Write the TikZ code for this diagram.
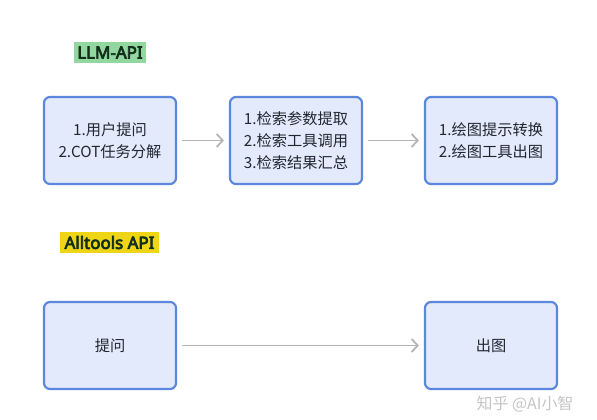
\documentclass[tikz,border=0pt]{standalone}
\usepackage{fontspec}
\setmainfont{Noto Sans CJK SC}
\newfontfamily\titlefont[FakeBold=4.2]{Noto Sans}
\usepackage{xcolor}
\usetikzlibrary{arrows.meta}
\definecolor{boxfill}{HTML}{E2EAFC}
\definecolor{boxline}{HTML}{5D87DC}
\definecolor{arrowgray}{HTML}{B4B4B4}
\definecolor{textdark}{HTML}{22262F}
\definecolor{tagGreen}{HTML}{92D6A0}
\definecolor{tagYellow}{HTML}{F0D416}
\definecolor{tagText}{HTML}{12301A}

\begin{document}
\begin{tikzpicture}[x=1bp, y=-1bp, line join=round]
\tikzset{
  stagebox/.style={draw=boxline, line width=2.2bp, fill=boxfill, rounded corners=6bp,
    minimum width=132bp, minimum height=87bp, align=center, text=textdark,
    font=\fontsize{15.3}{22}\selectfont},
  tag/.style={inner xsep=3bp, inner ysep=4bp, text=tagText,
    font=\titlefont\fontsize{17}{20}\selectfont},
  flow/.style={draw=arrowgray, line width=1.8bp, shorten <=5bp, shorten >=5bp,
    -{Straight Barb[length=6bp, width=13bp, line width=1.8bp]}}
}
\useasboundingbox (0, 0) rectangle (597, 419);
\fill[white] (0, 0) rectangle (597, 419);
% LLM-API
\node[tag, fill=tagGreen] (llmtag) at (110, 52.5) {LLM-API};
\node[stagebox] (ask) at (110, 140.5) {1.用户提问\\2.COT任务分解};
\node[stagebox] (search) at (296, 140.5) {1.检索参数提取\\2.检索工具调用\\3.检索结果汇总};
\node[stagebox] (draw) at (491, 140.5) {1.绘图提示转换\\2.绘图工具出图};
\draw[flow] (ask) -- (search);
\draw[flow] (search) -- (draw);
% Alltools API
\node[tag, fill=tagYellow, inner xsep=4.5bp] (alltag) at (109.5, 242.5) {Alltools API};
\node[stagebox] (prompt) at (110, 345.5) {提问};
\node[stagebox] (image) at (491, 345.5) {出图};
\draw[flow] (prompt) -- (image);
\node[text=gray!45, font=\fontsize{16}{16}\selectfont] (mark) at (525, 404) {知乎 @AI小智};
\end{tikzpicture}
\end{document}
